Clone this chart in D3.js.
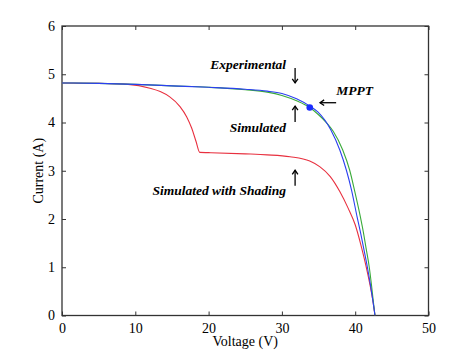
<!DOCTYPE html>
<html><head><meta charset="utf-8">
<script src="https://cdn.jsdelivr.net/npm/d3@7"></script>
<style>
html,body{margin:0;padding:0;background:#fff;}
svg text{font-family:"Liberation Serif","Times New Roman",serif;}
</style>
</head><body>
<svg id="chart" width="474" height="355"></svg>
<script>
// ---- data ----
const xTicks = [0, 10, 20, 30, 40, 50];
const yTicks = [0, 1, 2, 3, 4, 5, 6];

const expV = [0, 5, 10, 15, 20, 25, 28, 30, 32, 33.8, 34.9, 36.7, 37.9, 38.8, 39.5, 40.25, 40.75, 41.2, 41.65, 42.05, 42.4, 42.7];
const expI = [4.82, 4.81, 4.79, 4.76, 4.73, 4.69, 4.65, 4.60, 4.49, 4.34, 4.22, 3.84, 3.43, 3.01, 2.60, 2.05, 1.70, 1.36, 1.01, 0.66, 0.32, 0];

const simV = [0, 5, 10, 15, 20, 25, 28, 30, 32, 33.8, 35, 36, 37, 38.3, 39.25, 39.9, 40.7, 41.1, 41.5, 41.9, 42.2, 42.45, 42.7];
const simI = [4.82, 4.81, 4.79, 4.76, 4.73, 4.68, 4.63, 4.56, 4.45, 4.31, 4.16, 4.01, 3.82, 3.43, 3.01, 2.60, 2.05, 1.74, 1.38, 1.02, 0.66, 0.32, 0];

const shadeV = [0, 5, 9, 12, 13.4, 14.7, 16.1, 17.0, 17.7, 18.3, 18.8, 20, 25, 28, 31.1, 33.8, 35.2, 36.6, 37.9, 39.05, 40.0, 40.8, 41.5, 42.0, 42.4, 42.7];
const shadeI = [4.82, 4.81, 4.79, 4.71, 4.64, 4.53, 4.33, 4.12, 3.88, 3.60, 3.38, 3.375, 3.35, 3.33, 3.29, 3.20, 3.08, 2.88, 2.57, 2.22, 1.88, 1.45, 1.01, 0.65, 0.32, 0];

const mpptPoint = [33.8, 4.31];

const labelTexts = ["Experimental", "Simulated", "Simulated with Shading", "MPPT"];
const labelV = [30.56, 30.56, 30.56, 37.4];
const labelI = [5.11, 3.81, 2.50, 4.57];
const labelAnchor = ["end", "end", "end", "start"];

// arrows: tail -> tip (data coords)
const arrowFromV = [31.8, 31.8, 31.8, 37.4];
const arrowFromI = [5.13, 4.01, 2.69, 4.41];
const arrowToV   = [31.8, 31.8, 31.8, 35.2];
const arrowToI   = [4.82, 4.34, 3.01, 4.41];

// ---- layout ----
const svg = d3.select("#chart");
const L = 62, R = 428.5, T = 26, B = 315.5;
const x = d3.scaleLinear().domain([0, 50]).range([L, R]);
const y = d3.scaleLinear().domain([0, 6]).range([B, T]);

const axisColor = "#333";

// frame
svg.append("rect").attr("x", L).attr("y", T).attr("width", R - L).attr("height", B - T)
  .attr("fill", "none").attr("stroke", axisColor).attr("stroke-width", 1.3);

function styleAxis(g, showLabels) {
  g.select(".domain").remove();
  g.selectAll(".tick line").attr("stroke", axisColor).attr("stroke-width", 1);
  g.selectAll(".tick text").attr("fill", "#000").style("font-size", "14px")
    .style("font-family", '"Liberation Serif","Times New Roman",serif');
  if (!showLabels) g.selectAll(".tick text").remove();
}

svg.append("g").attr("transform", `translate(0,${B})`)
  .call(d3.axisBottom(x).tickValues(xTicks).tickSize(-4).tickPadding(8).tickFormat(d3.format("d")))
  .call(g => styleAxis(g, true));
svg.append("g").attr("transform", `translate(0,${T})`)
  .call(d3.axisTop(x).tickValues(xTicks).tickSize(-4))
  .call(g => styleAxis(g, false));
svg.append("g").attr("transform", `translate(${L},0)`)
  .call(d3.axisLeft(y).tickValues(yTicks).tickSize(-4).tickPadding(7).tickFormat(d3.format("d")))
  .call(g => styleAxis(g, true));
svg.append("g").attr("transform", `translate(${R},0)`)
  .call(d3.axisRight(y).tickValues(yTicks).tickSize(-4))
  .call(g => styleAxis(g, false));

// axis titles
svg.append("text").attr("x", (L + R) / 2).attr("y", 346).attr("text-anchor", "middle")
  .style("font-size", "14px").text("Voltage (V)");
svg.append("text").attr("transform", `translate(43,${(T + B) / 2}) rotate(-90)`)
  .attr("text-anchor", "middle").style("font-size", "14px").text("Current (A)");

// curves
const line = d3.line().x(d => x(d[0])).y(d => y(d[1])).curve(d3.curveMonotoneX);
const zip = (a, b) => a.map((v, i) => [v, b[i]]);

svg.append("clipPath").attr("id", "clip").append("rect")
  .attr("x", L).attr("y", T).attr("width", R - L).attr("height", B - T);
const plot = svg.append("g").attr("clip-path", "url(#clip)");

plot.append("path").datum(zip(shadeV, shadeI)).attr("d", line)
  .attr("fill", "none").attr("stroke", "#e8303f").attr("stroke-width", 1.1);
plot.append("path").datum(zip(simV, simI)).attr("d", line)
  .attr("fill", "none").attr("stroke", "#3aaa3a").attr("stroke-width", 1.1);
plot.append("path").datum(zip(expV, expI)).attr("d", line)
  .attr("fill", "none").attr("stroke", "#2b40f0").attr("stroke-width", 1.1);

svg.append("circle").attr("cx", x(mpptPoint[0])).attr("cy", y(mpptPoint[1])).attr("r", 3.3)
  .attr("fill", "#1a2cff");

// annotations
labelTexts.forEach((t, i) => {
  svg.append("text").attr("x", x(labelV[i])).attr("y", y(labelI[i]))
    .attr("text-anchor", labelAnchor[i])
    .style("font-size", "13.5px").style("font-style", "italic").style("font-weight", "bold")
    .text(t);
});

arrowFromV.forEach((v, i) => {
  const x1 = x(v), y1 = y(arrowFromI[i]), x2 = x(arrowToV[i]), y2 = y(arrowToI[i]);
  const ang = Math.atan2(y2 - y1, x2 - x1);
  const hl = 5, ha = 0.6;
  svg.append("line").attr("x1", x1).attr("y1", y1).attr("x2", x2).attr("y2", y2)
    .attr("stroke", "#000").attr("stroke-width", 1.3);
  const p1 = [x2 - hl * Math.cos(ang - ha), y2 - hl * Math.sin(ang - ha)];
  const p2 = [x2 - hl * Math.cos(ang + ha), y2 - hl * Math.sin(ang + ha)];
  svg.append("path").attr("d", `M${p1[0]},${p1[1]}L${x2},${y2}L${p2[0]},${p2[1]}`)
    .attr("fill", "none").attr("stroke", "#000").attr("stroke-width", 1.3);
});
</script>
</body></html>
